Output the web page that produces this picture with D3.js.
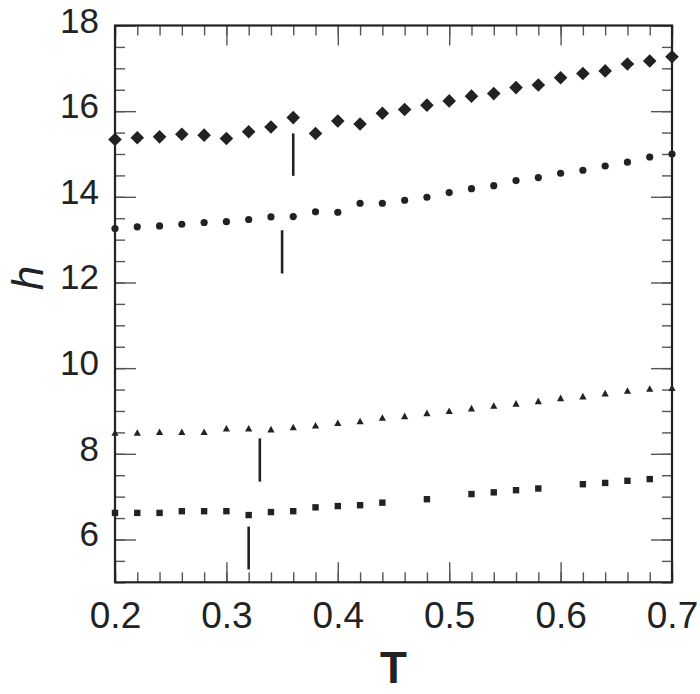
<!DOCTYPE html>
<html>
<head>
<meta charset="utf-8">
<script src="https://cdn.jsdelivr.net/npm/d3@7"></script>
<style>
  body { margin: 0; background: #fff; }
  svg { display: block; }
</style>
</head>
<body>
<script>
const W = 700, H = 694;
const margin = {top: 25.5, right: 28, bottom: 111.7, left: 115};

// T values, every 0.02 from 0.2 to 0.7
const tValues = [0.20, 0.22, 0.24, 0.26, 0.28, 0.30, 0.32, 0.34, 0.36, 0.38, 0.40, 0.42, 0.44,
                 0.46, 0.48, 0.50, 0.52, 0.54, 0.56, 0.58, 0.60, 0.62, 0.64, 0.66, 0.68, 0.70];

const diamondH = [15.34, 15.38, 15.40, 15.46, 15.44, 15.36, 15.52, 15.63, 15.85, 15.48, 15.77, 15.70, 15.95,
                  16.04, 16.14, 16.24, 16.35, 16.41, 16.55, 16.61, 16.78, 16.88, 16.94, 17.10, 17.17, 17.27];
const circleH  = [13.26, 13.30, 13.32, 13.36, 13.40, 13.42, 13.47, 13.53, 13.54, 13.65, 13.64, 13.85, 13.85,
                  13.92, 13.99, 14.10, 14.19, 14.26, 14.38, 14.45, 14.55, 14.62, 14.72, 14.81, 14.93, 15.00];
const triangleH = [8.48, 8.48, 8.50, 8.50, 8.50, 8.58, 8.58, 8.56, 8.61, 8.65, 8.71, 8.75, 8.83,
                   8.87, 8.94, 8.99, 9.05, 9.11, 9.16, 9.22, 9.29, 9.33, 9.40, 9.46, 9.51, 9.53];

// squares have gaps
const squareT = [0.20, 0.22, 0.24, 0.26, 0.28, 0.30, 0.32, 0.34, 0.36, 0.38, 0.40, 0.42, 0.44,
                 0.48, 0.52, 0.54, 0.56, 0.58, 0.62, 0.64, 0.66, 0.68];
const squareH = [6.62, 6.62, 6.62, 6.66, 6.66, 6.66, 6.57, 6.64, 6.66, 6.75, 6.78, 6.80, 6.86,
                 6.94, 7.06, 7.10, 7.15, 7.19, 7.29, 7.32, 7.37, 7.41];

// vertical marks: T, h from, h to
const markT  = [0.36, 0.35, 0.33, 0.32];
const markH0 = [14.49, 12.21, 7.35, 5.30];
const markH1 = [15.48, 13.22, 8.36, 6.30];

const xMajor = [0.2, 0.3, 0.4, 0.5, 0.6, 0.7];
const yMajor = [6, 8, 10, 12, 14, 16, 18];

const ink = "#222";

const svg = d3.select("body").append("svg")
    .attr("width", W)
    .attr("height", H);

const iw = W - margin.left - margin.right;
const ih = H - margin.top - margin.bottom;

const x = d3.scaleLinear().domain([0.2, 0.7]).range([margin.left, margin.left + iw]);
const y = d3.scaleLinear().domain([5, 18]).range([margin.top + ih, margin.top]);

const xMinor = d3.range(0.2, 0.7001, 0.02);
const yMinor = d3.range(5, 18.001, 0.5);

const g = svg.append("g");

function styleAxis(sel) {
    sel.select(".domain").remove();
    sel.selectAll(".tick line").attr("stroke", "#555").attr("stroke-width", 1.4);
    sel.selectAll(".tick text")
        .attr("fill", ink)
        .attr("font-family", "'Liberation Sans', Arial, Helvetica, sans-serif");
}

// minor ticks
g.append("g").attr("transform", `translate(0,${y(5)})`)
    .call(d3.axisBottom(x).tickValues(xMinor).tickSize(-10).tickFormat(""))
    .call(styleAxis);
g.append("g").attr("transform", `translate(0,${y(18)})`)
    .call(d3.axisTop(x).tickValues(xMinor).tickSize(-10).tickFormat(""))
    .call(styleAxis);
g.append("g").attr("transform", `translate(${x(0.2)},0)`)
    .call(d3.axisLeft(y).tickValues(yMinor).tickSize(-10).tickFormat(""))
    .call(styleAxis);
g.append("g").attr("transform", `translate(${x(0.7)},0)`)
    .call(d3.axisRight(y).tickValues(yMinor).tickSize(-10).tickFormat(""))
    .call(styleAxis);

// major ticks with labels
const xAxis = g.append("g").attr("transform", `translate(0,${y(5)})`)
    .call(d3.axisBottom(x).tickValues(xMajor).tickSize(-20).tickPadding(0).tickFormat(d3.format(".1f")))
    .call(styleAxis);
xAxis.selectAll(".tick text")
    .attr("font-size", 37)
    .attr("dy", 0)
    .attr("y", 46);

g.append("g").attr("transform", `translate(0,${y(18)})`)
    .call(d3.axisTop(x).tickValues(xMajor).tickSize(-20).tickFormat(""))
    .call(styleAxis);

const yAxis = g.append("g").attr("transform", `translate(${x(0.2)},0)`)
    .call(d3.axisLeft(y).tickValues(yMajor).tickSize(-21).tickPadding(16).tickFormat(d3.format("d")))
    .call(styleAxis);
yAxis.selectAll(".tick text")
    .attr("font-size", 35)
    .attr("dy", 6.5);

g.append("g").attr("transform", `translate(${x(0.7)},0)`)
    .call(d3.axisRight(y).tickValues(yMajor).tickSize(-21).tickFormat(""))
    .call(styleAxis);

// frame
svg.append("rect")
    .attr("x", x(0.2)).attr("y", y(18))
    .attr("width", x(0.7) - x(0.2)).attr("height", y(5) - y(18))
    .attr("fill", "none").attr("stroke", ink).attr("stroke-width", 2.2);

// axis titles
svg.append("text")
    .attr("x", (x(0.2) + x(0.7)) / 2)
    .attr("y", 683)
    .attr("text-anchor", "middle")
    .attr("font-family", "'Liberation Sans', Arial, Helvetica, sans-serif")
    .attr("font-weight", "bold")
    .attr("font-size", 44)
    .attr("fill", ink)
    .text("T");

svg.append("text")
    .attr("transform", "translate(43,278) rotate(-90)")
    .attr("text-anchor", "middle")
    .attr("font-family", "'Liberation Sans', Arial, Helvetica, sans-serif")
    .attr("font-style", "italic")
    .attr("font-size", 44)
    .attr("fill", ink)
    .text("h");

// data series
const pts = (ts, hs) => ts.map((t, i) => ({t, h: hs[i]}));

svg.append("g").selectAll("path")
    .data(pts(tValues, diamondH))
    .join("path")
    .attr("d", "M0,-6.8L6.8,0L0,6.8L-6.8,0Z")
    .attr("transform", d => `translate(${x(d.t)},${y(d.h)})`)
    .attr("fill", ink);

svg.append("g").selectAll("circle")
    .data(pts(tValues, circleH))
    .join("circle")
    .attr("cx", d => x(d.t))
    .attr("cy", d => y(d.h))
    .attr("r", 3.6)
    .attr("fill", ink);

svg.append("g").selectAll("path")
    .data(pts(tValues, triangleH))
    .join("path")
    .attr("d", "M0,-4L3.6,2.6L-3.6,2.6Z")
    .attr("transform", d => `translate(${x(d.t)},${y(d.h)})`)
    .attr("fill", ink);

svg.append("g").selectAll("rect")
    .data(pts(squareT, squareH))
    .join("rect")
    .attr("x", d => x(d.t) - 3.2)
    .attr("y", d => y(d.h) - 3.2)
    .attr("width", 6.4)
    .attr("height", 6.4)
    .attr("fill", ink);

// vertical T_c marks
svg.append("g").selectAll("line")
    .data(markT.map((t, i) => ({t, h0: markH0[i], h1: markH1[i]})))
    .join("line")
    .attr("x1", d => x(d.t)).attr("x2", d => x(d.t))
    .attr("y1", d => y(d.h0)).attr("y2", d => y(d.h1))
    .attr("stroke", ink)
    .attr("stroke-width", 2.6);
</script>
</body>
</html>
